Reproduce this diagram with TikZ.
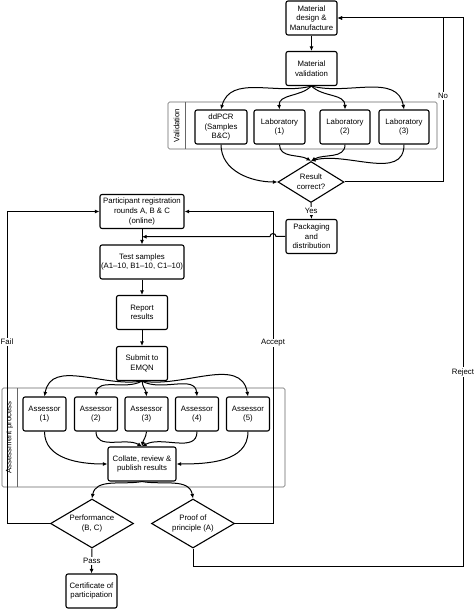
\documentclass[tikz,border=0pt]{standalone}
\usepackage{fontspec}
\setmainfont{Liberation Sans}
\usetikzlibrary{arrows.meta,calc,positioning,shapes.geometric}

\begin{document}
\begin{tikzpicture}[x=1pt, y=-1pt, >={Latex[length=4.5pt,width=4pt]}, line width=1pt,
  font=\fontsize{7.8}{9.6}\selectfont,
  box/.style={draw, rounded corners=2pt, align=center, inner sep=1pt,
    minimum height=34pt, line width=1.1pt},
  choice/.style={draw, diamond, align=center, inner sep=0pt, line width=1.1pt},
  frame/.style={draw=black!60, line width=0.6pt, rounded corners=1.5pt},
  tag/.style={fill=white, inner sep=1pt}]

  \useasboundingbox (0,0) rectangle (474,609);

  % Group frames (validation and assessment)
  \draw[frame] (168,102) rectangle (437,149);
  \draw[frame] (185,102) -- (185,149);
  \node[rotate=90] (vallabel) at (176.5,125.5) {Validation};
  \draw[frame] (2,388) rectangle (285,487);
  \draw[frame] (17,388) -- (17,487);
  \node[rotate=90] (asslabel) at (9.5,437.5) {Assessment process};

  % Material preparation
  \node[box, minimum width=51pt] (mdm) at (311.5,18) {Material\\design \&\\Manufacture};
  \node[box, minimum width=51pt] (mval) at (311.5,68.5) {Material\\validation};
  \node[box, minimum width=52pt] (ddpcr) at (221,127) {ddPCR\\(Samples\\B\&C)};
  \node[box, minimum width=51pt] (lab1) at (279.5,127) {Laboratory\\(1)};
  \node[box, minimum width=50pt] (lab2) at (345,127) {Laboratory\\(2)};
  \node[box, minimum width=50pt] (lab3) at (404,127) {Laboratory\\(3)};
  \node[choice, minimum width=66pt, minimum height=41pt, aspect=1.6] (rc) at (311,182) {Result\\correct?};
  \node[box, minimum width=51pt] (pack) at (311.5,236.5) {Packaging\\and\\distribution};

  % Participant side
  \node[box, minimum width=84pt] (reg) at (142,211.5) {Participant registration\\rounds A, B \& C\\(online)};
  \node[box, minimum width=84pt] (test) at (142,262) {Test samples\\(A1--10, B1--10, C1--10)};
  \node[box, minimum width=51pt] (report) at (142,312.5) {Report\\results};
  \node[box, minimum width=51pt] (submit) at (142,363.5) {Submit to\\EMQN};

  % Assessors
  \foreach \i/\x in {1/44.5, 2/96, 3/146.5, 4/197, 5/248}
    \node[box, minimum width=43pt] (ass\i) at (\x,414) {Assessor\\(\i)};
  \node[box, minimum width=68pt] (collate) at (142,464) {Collate, review \&\\publish results};
  \node[choice, minimum width=83pt, minimum height=49pt, aspect=1.7] (perf) at (92,523.5) {Performance\\(B, C)};
  \node[choice, minimum width=83pt, minimum height=49pt, aspect=1.7] (proof) at (193,523.5) {Proof of\\principle (A)};
  \node[box, minimum width=51pt] (cert) at (91.5,591) {Certificate of\\participation};

  % Loop coordinates
  \coordinate (loopno) at (443,0);
  \coordinate (loopreject) at (463,566);
  \coordinate (loopfail) at (7,0);
  \coordinate (loopaccept) at (273,0);
  \coordinate (join) at ($(reg.south)!0.5!(test.north)$);

  % Validation arrows
  \draw[->] (mdm) -- (mval);
  \draw[->] (mval.south) to[out=195, in=75] (ddpcr.north);
  \draw[->] (mval.south) to[out=225, in=95] (lab1.north);
  \draw[->] (mval.south) to[out=-45, in=90] (lab2.north);
  \draw[->] (mval.south) to[out=-15, in=100] (lab3.north);
  \draw[->] (ddpcr.south) to[out=-90, in=180] (rc.west);
  \draw[->] (lab1.south) to[out=-90, in=150] (rc.north);
  \draw[->] (lab2.south) to[out=-90, in=30] (rc.north);
  \draw[->] (lab3.south) to[out=-90, in=15] (rc.north);
  \draw[->] (rc.south) -- node[tag] {Yes} (pack.north);
  \draw[->] (rc.east) -| (loopno |- mdm.east) -- (mdm.east);
  \node[tag] (nolabel) at (443,96) {No};

  % Distribution to participants (with a hop over the accept line)
  \draw[->] (pack.west) -- ($(loopaccept |- pack.west)+(3,0)$)
    arc[start angle=0, end angle=180, radius=3pt] -- (join);
  \draw[->] (reg) -- (test);
  \draw[->] (test) -- (report);
  \draw[->] (report) -- (submit);

  % Assessment
  \draw[->] (submit.south) to[out=190, in=80] (ass1.north);
  \draw[->] (submit.south) to[out=210, in=85] (ass2.north);
  \draw[->] (submit.south) to[out=-85, in=95] (ass3.north);
  \draw[->] (submit.south) to[out=-30, in=95] (ass4.north);
  \draw[->] (submit.south) to[out=-10, in=100] (ass5.north);
  \draw[->] (ass1.south) to[out=-90, in=180] (collate.west);
  \draw[->] (ass2.south) to[out=-90, in=150] (collate.north);
  \draw[->] (ass3.south) to[out=-95, in=80] (collate.north);
  \draw[->] (ass4.south) to[out=-90, in=30] (collate.north);
  \draw[->] (ass5.south) to[out=-90, in=0] (collate.east);
  \draw[->] (collate.south) to[out=190, in=80] (perf.north);
  \draw[->] (collate.south) to[out=-10, in=100] (proof.north);

  % Outcomes
  \draw[->] (perf.south) -- node[tag] {Pass} (cert.north);
  \draw[->] (perf.west) -| (loopfail |- reg.west) -- (reg.west);
  \node[tag] (faillabel) at (7,342) {Fail};
  \draw[->] (proof.east) -| (loopaccept |- reg.east) -- (reg.east);
  \node[tag] (acceptlabel) at (273,343) {Accept};
  \draw[->] (proof.south) |- (loopreject) |- (mdm.east);
  \node[tag] (rejectlabel) at (463,372) {Reject};

\end{tikzpicture}
\end{document}
